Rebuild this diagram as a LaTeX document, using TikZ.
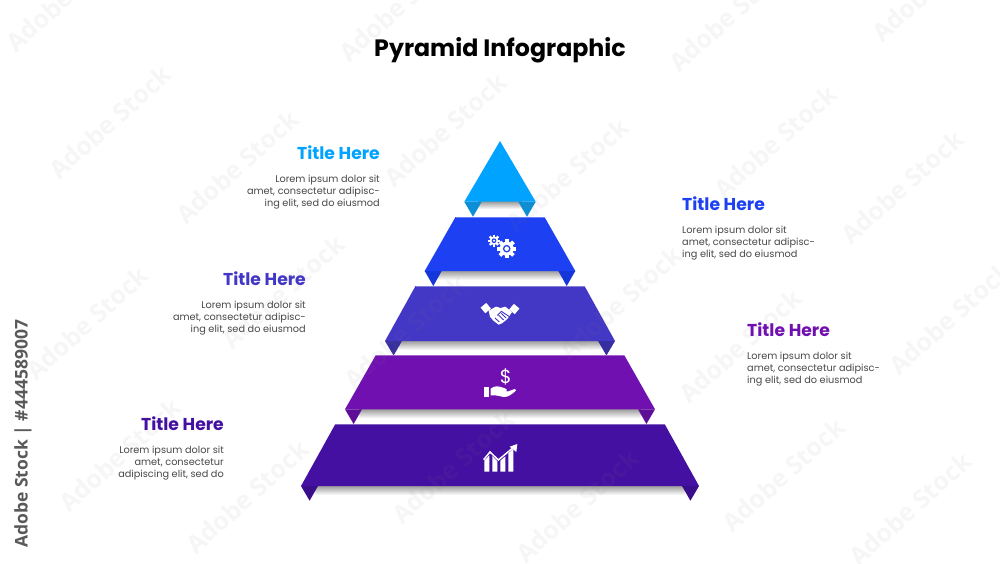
\documentclass[tikz,border=0pt]{standalone}
\usepackage{fontspec}
\setmainfont{Poppins}
\newfontfamily\stockfont{Open Sans}
\definecolor{cApex}{HTML}{00A3FF}\definecolor{tApex}{HTML}{0A8FD6}
\definecolor{cTwo}{HTML}{1C40F2}\definecolor{tTwo}{HTML}{1536D8}
\definecolor{cThree}{HTML}{4337C6}\definecolor{tThree}{HTML}{372F9F}
\definecolor{cFour}{HTML}{7110B1}\definecolor{tFour}{HTML}{5E0E96}
\definecolor{cFive}{HTML}{4410A1}\definecolor{tFive}{HTML}{3A0D8A}
\definecolor{bodyc}{HTML}{484848}
\tikzset{
  headtext/.style={font=\fontsize{17.2}{19}\selectfont\bfseries,inner sep=0pt},
  copyleft/.style={font=\fontsize{9.75}{12.4}\selectfont,text=bodyc,inner sep=0pt,align=right,anchor=north east},
  copyright/.style={font=\fontsize{9.75}{12.4}\selectfont,text=bodyc,inner sep=0pt,align=left,anchor=north west},
  undershadow/.style={top color=black!38,bottom color=white,draw=none},
  stockmark/.style={rotate=42,text=black!50,text opacity=.07,font=\stockfont\fontsize{25}{28}\selectfont\bfseries,inner sep=0pt}
}
\newcommand{\tiershape}[9]{%
 % ytop ybot topL topR botL botR fill tab tabheight
 \shade[undershadow] (#5+14,#2) rectangle (#6-14,#2+9);
 \fill[#7] (#3,#1) -- (#4,#1) -- (#6,#2) -- (#5,#2) -- cycle;
 \draw[#7!65!white,line width=.5pt] (#3,#1) -- (#4,#1);
 \fill[#8] (#5,#2) -- (#5+8.6,#2+#9) -- (#5+17,#2) -- cycle;
 \fill[#8] (#6,#2) -- (#6-8.6,#2+#9) -- (#6-17,#2) -- cycle;
}
\newcommand{\gearicon}[5]{% x y outer body hole
 \foreach \a in {0,45,...,315}{
   \fill[white,shift={(#1,#2)},rotate=\a] (-#3*.2,0) rectangle (#3*.2,#3);
 }
 \fill[white] (#1,#2) circle[radius=#4];
 \fill[cTwo] (#1,#2) circle[radius=#5];
}
\begin{document}
\begin{tikzpicture}[x=1pt,y=-1pt]
\useasboundingbox (0,0) rectangle (1000,563);
\fill[white] (0,0) rectangle (1000,563);
\clip (0,0) rectangle (1000,563);

% pyramid
\shade[undershadow] (478,201.7) rectangle (522,209);
\fill[cApex] (500,141) -- (535.7,201.7) -- (464.3,201.7) -- cycle;
\fill[tApex] (464.3,201.7) -- (473,216.7) -- (481.7,201.7) -- cycle;
\fill[tApex] (535.7,201.7) -- (527,216.7) -- (518.3,201.7) -- cycle;
\tiershape{217}{271}{455.5}{544.5}{424.7}{575.3}{cTwo}{tTwo}{15}
\tiershape{286}{341}{415.5}{584.5}{385}{615}{cThree}{tThree}{14.5}
\tiershape{355.3}{409.3}{375.7}{624.3}{345}{655}{cFour}{tFour}{14.7}
\tiershape{424.7}{486}{335}{665}{301}{699}{cFive}{tFive}{14.7}

% faint stock watermark tile, placed as in the reference
\foreach \wx/\wy in {110/122,237/167,445/130,567/175,67/-5,400/5,730/15,933/-15,
  775/142,902/187,620/303,950/318,87/323,120/455,247/497,283/292,405/332,
  453/467,740/346,783/475,910/509,577/506}{
  \node[stockmark] at (\wx,\wy) {Adobe Stock};
}

% title
\node[font=\fontsize{23.7}{26}\selectfont\bfseries,inner sep=0pt] (heading) at (500,50.5) {Pyramid Infographic};

% gears
\gearicon{494}{240.7}{6}{4.3}{2.4}
\fill[white] (494,240.7) circle[radius=1.2];
\gearicon{506.7}{248.7}{9.6}{7}{3.8}
\fill[white] (506.7,248.7) circle[radius=2.3];

% handshake, dollar hand, chart: coordinates of a 3x crop
\begin{scope}[shift={(440,290)},x=.3333pt,y=-.3333pt]
  % handshake
  \fill[white,rotate around={40:(138,55)}] (127,43) rectangle (149,65);
  \fill[white,rotate around={-40:(223,57)}] (212,46) rectangle (234,68);
  \fill[white] (146,62) -- (168,50) -- (182,54) -- (196,50) -- (216,66)
     -- (204,84) -- (196,92) -- (186,100) -- (176,104) -- (160,92) -- (150,80) -- cycle;
  \draw[cThree,line width=.9pt] (172,76) -- (184,64) -- (208,80)
     (165,84) -- (178,96) (176,76) -- (191,90) (184,70) -- (198,84);
  % hand and dollar
  \node[font=\fontsize{19}{19}\selectfont,text=white,inner sep=0pt] (dollar) at (197,262) {\$};
  \fill[white] (132,292) rectangle (148,320);
  \fill[white] (152,296) .. controls (165,286) and (175,288) .. (192,294)
     -- (200,298) .. controls (204,304) and (198,307) .. (190,306)
     -- (182,305) -- (205,304) -- (224,297) .. controls (232,297) and (229,304) .. (222,307)
     .. controls (212,315) and (204,321) .. (192,321) -- (166,316) -- (152,316) -- cycle;
  % chart
  \fill[white] (133,512) -- (148,496) -- (148,545) -- (133,545) -- cycle;
  \fill[white] (157,498) -- (172,514) -- (172,545) -- (157,545) -- cycle;
  \fill[white] (181,512) -- (196,499) -- (196,545) -- (181,545) -- cycle;
  \fill[white] (205,490) -- (220,476) -- (220,545) -- (205,545) -- cycle;
  \draw[white,line width=1.5pt] (131,509) -- (150,486) -- (175,510) -- (223,470);
  \fill[white] (232,462) -- (229,486) -- (209,470) -- cycle;
\end{scope}

% labels
\node[headtext,text=cApex,anchor=east] (t1) at (380,153) {Title Here};
\node[copyleft] (b1) at (380,174.5) {Lorem ipsum dolor sit\\amet, consectetur adipisc-\\ing elit, sed do eiusmod};
\node[headtext,text=cTwo,anchor=west] (t2) at (682,204) {Title Here};
\node[copyright] (b2) at (682,225.5) {Lorem ipsum dolor sit\\amet, consectetur adipisc-\\ing elit, sed do eiusmod};
\node[headtext,text=cThree,anchor=east] (t3) at (306,279) {Title Here};
\node[copyleft] (b3) at (306,300.5) {Lorem ipsum dolor sit\\amet, consectetur adipisc-\\ing elit, sed do eiusmod};
\node[headtext,text=cFour,anchor=west] (t4) at (747,330) {Title Here};
\node[copyright] (b4) at (747,351.5) {Lorem ipsum dolor sit\\amet, consectetur adipisc-\\ing elit, sed do eiusmod};
\node[headtext,text=cFive,anchor=east] (t5) at (224,424) {Title Here};
\node[copyleft] (b5) at (224,445.5) {Lorem ipsum dolor sit\\amet, consectetur\\adipiscing elit, sed do};

% side credit
\node[rotate=90,anchor=west,inner sep=0pt,text=black!65,font=\stockfont\fontsize{17.5}{19}\selectfont\bfseries] (credit) at (23,548) {Adobe Stock | \#444589007};
\end{tikzpicture}
\end{document}
